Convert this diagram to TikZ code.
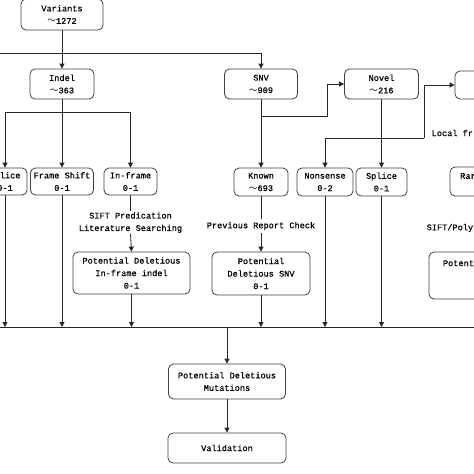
\documentclass[tikz,border=0pt]{standalone}
\usepackage{fontspec}
\setmainfont{Liberation Mono}[FakeBold=0.7]
\newfontfamily\cjk{Noto Sans CJK SC}
\usetikzlibrary{arrows.meta}
\newcommand\wv{{\cjk ～}}
\begin{document}
\begin{tikzpicture}[x=1pt,y=-1pt,
  txt/.style={align=center, inner sep=1pt, font=\fontsize{8.6}{12.5}\selectfont},
  box/.style={txt, draw=black!75, line width=0.8pt, rounded corners=5pt, inner sep=0pt},
  conn/.style={line width=0.8pt, draw=black!85},
  arr/.style={conn, -{Triangle[length=5pt,width=5pt]}}]
\useasboundingbox (0,0) rectangle (474,474);
\fill[white] (0,0) rectangle (474,474);
\clip (0,0) rectangle (474,474);
% nodes
\node[box, minimum width=82pt, minimum height=31pt] (var) at (62,14.5) {Variants\\\wv1272};
\node[box, minimum width=64pt, minimum height=30pt] (indel) at (62,84) {Indel\\\wv363};
\node[box, minimum width=73pt, minimum height=30pt] (snv) at (261,84) {SNV\\\wv909};
\node[box, minimum width=74pt, minimum height=30pt] (novel) at (381.5,84) {Novel\\\wv216};
\node[box, minimum width=50pt, minimum height=28pt] (r1) at (480,85) {};
\node[box, minimum width=44pt, minimum height=27pt] (splL) at (5,181.5) {Splice\\0-1};
\node[box, minimum width=63pt, minimum height=27pt] (fs) at (62,181.5) {Frame Shift\\0-1};
\node[box, minimum width=53pt, minimum height=27pt] (inf) at (130.5,181.5) {In-frame\\0-1};
\node[box, minimum width=54pt, minimum height=28pt] (known) at (261,182) {Known\\\wv693};
\node[box, minimum width=56pt, minimum height=28pt] (nons) at (325,182) {Nonsense\\0-2};
\node[box, minimum width=51pt, minimum height=28pt] (spl) at (381.5,182) {Splice\\0-1};
\node[box, minimum width=70pt, minimum height=29pt] (ra) at (485,181.5) {};
\node[txt, anchor=west] (rat) at (459,176) {Rare};
\node[txt] (t1) at (130.5,222.5) {SIFT Predication\\Literature Searching};
\node[txt, inner sep=3pt] (t2) at (261,226) {Previous Report Check};
\node[txt, anchor=west] (t3) at (425.5,228) {SIFT/Poly};
\node[txt, anchor=west] (t4) at (430.5,133) {Local fr};
\node[box, minimum width=117pt, minimum height=42pt] (pdi) at (131.5,273) {Potential Deletious\\In-frame indel\\0-1};
\node[box, minimum width=98pt, minimum height=43pt] (pds) at (261,273.5) {Potential\\Deletious SNV\\0-1};
\node[box, minimum width=122pt, minimum height=47pt] (pdr) at (490,275.5) {};
\node[txt] (pdrt) at (492,263) {Potential Deletious};
\node[box, minimum width=117pt, minimum height=35pt] (pdm) at (227,381.5) {Potential Deletious\\Mutations};
\node[box, minimum width=118pt, minimum height=30pt] (val) at (227,448) {Validation};
% bus coordinates
\coordinate (b1L) at (-10,53);
\coordinate (b2) at (62,112);
\coordinate (b3L) at (-10,327);
\coordinate (b3R) at (490,327);
\coordinate (s2) at (327,116);
\coordinate (n1) at (325,138);
\coordinate (n2) at (424,138);
% connectors
\draw[arr] (var.south) -- (indel.north);
\draw[arr] (b1L) -| (snv.north);
\draw[conn] (indel.south) -- (b2);
\draw[conn] (splL.north |- b2) -- (inf.north |- b2);
\draw[arr] (splL.north |- b2) -- (splL.north);
\draw[arr] (b2) -- (fs.north);
\draw[arr] (inf.north |- b2) -- (inf.north);
\draw[conn] (inf.south) -- (t1.north);
\draw[arr] (t1.south) -- (pdi.north);
\draw[arr] (snv.south) -- (known.north);
\draw[arr] (snv.south |- s2) -- (s2) |- (novel.west);
\draw[conn] (known.south) -- (t2.north);
\draw[arr] (t2.south) -- (pds.north);
\draw[arr] (novel.south) -- (spl.north);
\draw[conn] (n1) -- (n2);
\draw[arr] (n1) -- (nons.north);
\draw[arr] (n2) |- (r1.west);
\draw[conn] (b3L) -- (b3R);
\draw[arr] (splL.south) -- (splL.south |- b3L);
\draw[arr] (fs.south) -- (fs.south |- b3L);
\draw[arr] (pdi.south) -- (pdi.south |- b3L);
\draw[arr] (pds.south) -- (pds.south |- b3L);
\draw[arr] (nons.south) -- (nons.south |- b3L);
\draw[arr] (spl.south) -- (spl.south |- b3L);
\draw[arr] (pdm.north |- b3L) -- (pdm.north);
\draw[arr] (pdm.south) -- (val.north);
\end{tikzpicture}
\end{document}
